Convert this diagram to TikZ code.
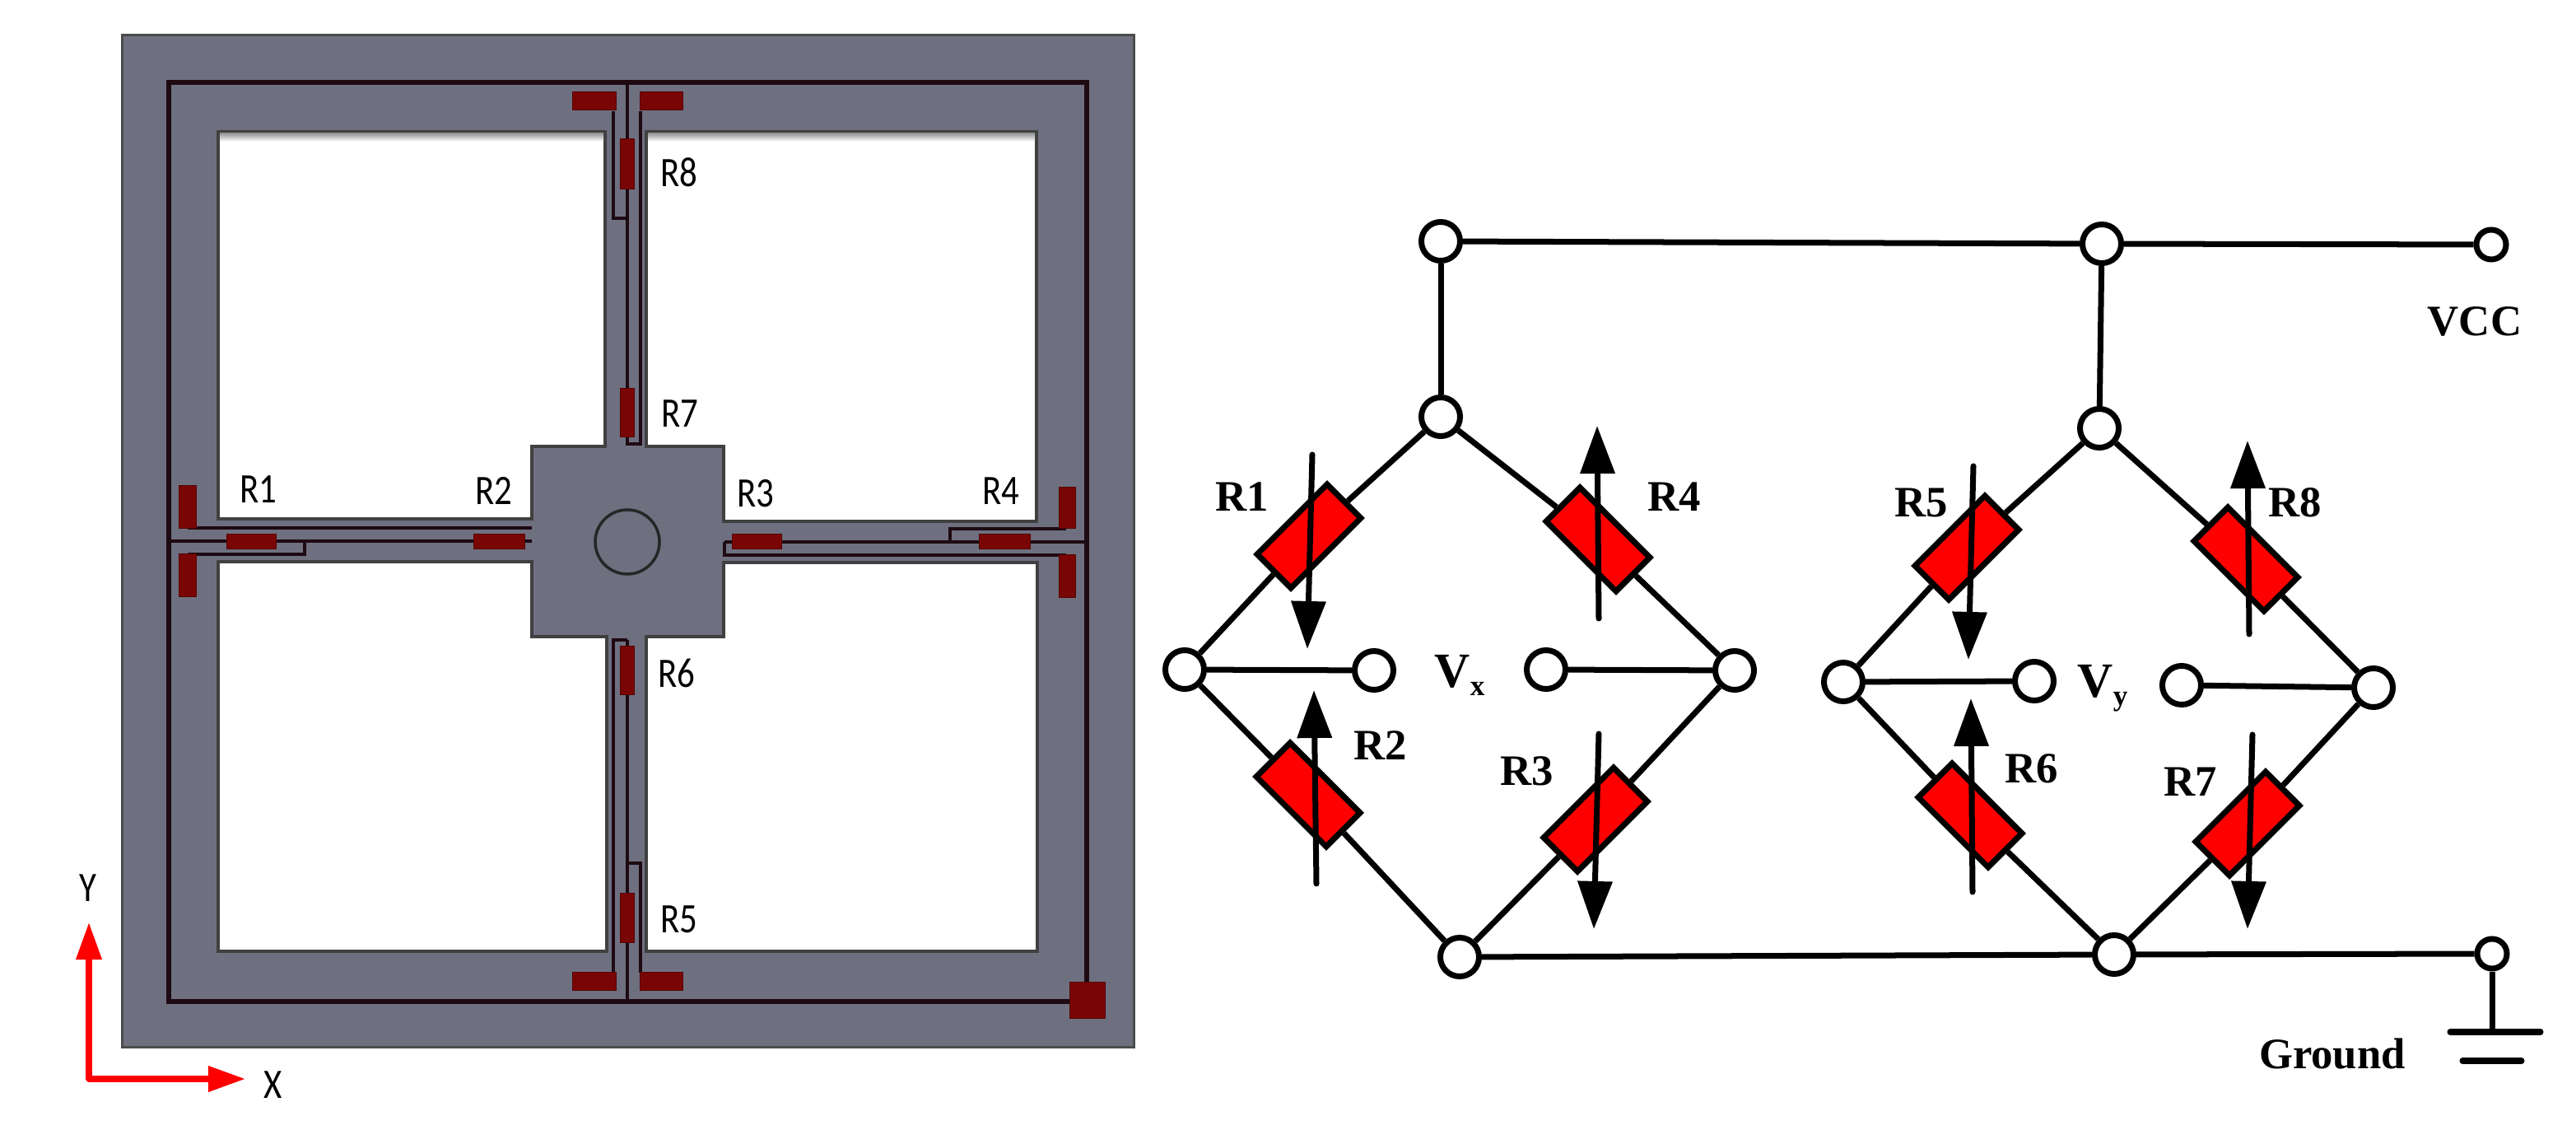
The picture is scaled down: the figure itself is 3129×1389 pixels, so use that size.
\documentclass[tikz,border=0pt]{standalone}
\usepackage{fontspec}
\setmainfont{Liberation Serif}
\newfontfamily\platefont{Carlito}
\usetikzlibrary{arrows.meta}
\definecolor{plategray}{HTML}{6E7080}
\definecolor{padred}{HTML}{7A0505}
\definecolor{tracedark}{HTML}{1E0A12}
\tikzset{
	term/.style={circle, draw, fill=white, line width=0.07cm, inner sep=0pt, minimum size=0.47cm},
	smallterm/.style={term, minimum size=0.36cm},
	gauge/.style={rectangle, draw, fill=red, line width=0.07cm, inner sep=0pt,
		minimum width=1.2cm, minimum height=0.58cm},
	wire/.style={line width=0.07cm},
	strain/.style={line width=0.07cm, line cap=round, -{Triangle[length=0.58cm,width=0.41cm]}},
	lab/.style={font=\fontsize{15}{16}\selectfont\bfseries, inner sep=0pt},
	platelab/.style={font=\platefont\fontsize{14.5}{16}\selectfont, inner sep=0pt, xscale=0.84},
	window/.style={fill=white, draw=black!75, line width=0.035cm},
	trace/.style={draw=tracedark, line width=0.035cm},
	pad/.style={fill=padred, draw=padred!70!black, line width=0.01cm},
	axis/.style={red, line width=0.07cm, line cap=round, -{Triangle[length=0.45cm,width=0.3cm]}}
}
\newcommand{\bigv}[1]{{\fontsize{17}{18}\selectfont V}\raisebox{-0.1cm}{\fontsize{10}{11}\selectfont #1}}
\begin{document}
\begin{tikzpicture}[x=0.01cm, y=-0.01cm]
	\useasboundingbox (0,0) rectangle (3129,1389);

	% sensor plate
	\draw[fill=plategray, draw=black!70, line width=0.03cm] (148,43) rectangle (1377,1272);
	\draw[window] (265,160) -- (735,160) -- (735,542) -- (646,542) -- (646,630) -- (265,630) -- cycle;
	\draw[window] (785,160) -- (1259,160) -- (1259,633) -- (879,633) -- (879,542) -- (785,542) -- cycle;
	\draw[window] (265,682) -- (646,682) -- (646,773) -- (737,773) -- (737,1155) -- (265,1155) -- cycle;
	\draw[window] (879,683) -- (1260,683) -- (1260,1155) -- (785,1155) -- (785,773) -- (879,773) -- cycle;
	\shade[top color=black!40, bottom color=white] (267,162) rectangle (733,172);
	\shade[top color=black!40, bottom color=white] (787,162) rectangle (1257,172);
	\node[circle, draw=black!85, line width=0.035cm, inner sep=0pt, minimum size=0.78cm] (hub) at (762,658) {};

	% traces
	\draw[trace, line width=0.06cm] (205,1216) -- (205,100) -- (1320,100) -- (1320,1216) -- cycle;
	\draw[trace] (762,100) -- (762,539) -- (778,539) -- (778,135);
	\draw[trace] (745,135) -- (745,265) -- (762,265);
	\draw[trace] (745,1181) -- (745,777) -- (762,777);
	\draw[trace] (762,777) -- (762,1216);
	\draw[trace] (762,1048) -- (778,1048) -- (778,1181);
	\draw[trace] (205,657) -- (646,657);
	\draw[trace] (228,641) -- (646,641);
	\draw[trace] (228,673) -- (370,673) -- (370,659);
	\draw[trace] (880,658) -- (1320,658);
	\draw[trace] (1295,642) -- (1154,642) -- (1154,658);
	\draw[trace] (1295,674) -- (880,674) -- (880,658);

	% resistors on the beams
	\fill[pad] (695,112) rectangle (748,134);
	\fill[pad] (777,112) rectangle (829,134);
	\fill[pad] (695,1181) rectangle (748,1203);
	\fill[pad] (777,1181) rectangle (829,1203);
	\fill[pad] (753,169) rectangle (770,230);
	\fill[pad] (753,472) rectangle (770,531);
	\fill[pad] (753,785) rectangle (770,844);
	\fill[pad] (753,1085) rectangle (770,1145);
	\fill[pad] (275,649) rectangle (335,667);
	\fill[pad] (575,649) rectangle (637,667);
	\fill[pad] (889,649) rectangle (949,667);
	\fill[pad] (1189,649) rectangle (1251,667);
	\fill[pad] (217,590) rectangle (238,642);
	\fill[pad] (217,673) rectangle (238,725);
	\fill[pad] (1286,592) rectangle (1306,642);
	\fill[pad] (1286,674) rectangle (1306,726);
	\fill[pad] (1299,1193) rectangle (1342,1237);

	\node[platelab] (p1) at (314,594) {R1};
	\node[platelab] (p2) at (600,596) {R2};
	\node[platelab] (p3) at (918,599) {R3};
	\node[platelab] (p4) at (1216,596) {R4};
	\node[platelab] (p5) at (825,1116) {R5};
	\node[platelab] (p6) at (822,817) {R6};
	\node[platelab] (p7) at (826,502) {R7};
	\node[platelab] (p8) at (825,209) {R8};

	% axes
	\coordinate (org) at (108,1310);
	\coordinate (xtip) at (298,1310);
	\coordinate (ytip) at (108,1120);
	\draw[axis] (org) -- (xtip);
	\draw[axis] (org) -- (ytip);
	\node[platelab] (xlab) at (332,1317) {X};
	\node[platelab] (ylab) at (107,1078) {Y};

	% left bridge
	\node[term] (a) at (1750,293) {};
	\node[term] (b) at (1750,506) {};
	\node[term] (c) at (1439,813) {};
	\node[term] (d) at (1669,814) {};
	\node[term] (e) at (1878,813) {};
	\node[term] (f) at (2107,814) {};
	\node[term] (g) at (1773,1162) {};

	\node[gauge, rotate=45] (r1) at (1590,651) {};
	\node[gauge, rotate=-45] (r2) at (1589,965) {};
	\node[gauge, rotate=45] (r3) at (1938,995) {};
	\node[gauge, rotate=-45] (r4) at (1941,655) {};

	\draw[wire] (a) -- (b);
	\draw[wire] (b) -- (r1) -- (c);
	\draw[wire] (c) -- (r2) -- (g);
	\draw[wire] (g) -- (r3) -- (f);
	\draw[wire] (f) -- (r4) -- (b);
	\draw[wire] (c) -- (d);
	\draw[wire] (e) -- (f);

	\coordinate (s1) at (1594,552); \coordinate (t1) at (1588,788);
	\coordinate (s2) at (1599,1073); \coordinate (t2) at (1596,838);
	\coordinate (s3) at (1942,891); \coordinate (t3) at (1936,1128);
	\coordinate (s4) at (1942,751); \coordinate (t4) at (1940,517);
	\draw[strain] (s1) -- (t1);
	\draw[strain] (s2) -- (t2);
	\draw[strain] (s3) -- (t3);
	\draw[strain] (s4) -- (t4);

	\node[lab] (l1) at (1509,603) {R1};
	\node[lab] (l2) at (1677,905) {R2};
	\node[lab] (l3) at (1855,936) {R3};
	\node[lab] (l4) at (2034,603) {R4};
	\node[lab] (vx) at (1773,820) {\bigv{x}};

	% right bridge
	\node[term] (h) at (2553,296) {};
	\node[term] (i) at (2550,520) {};
	\node[term] (j) at (2239,828) {};
	\node[term] (k) at (2471,827) {};
	\node[term] (m) at (2650,832) {};
	\node[term] (n) at (2883,835) {};
	\node[term] (o) at (2568,1159) {};

	\node[gauge, rotate=45] (r5) at (2389,665) {};
	\node[gauge, rotate=-45] (r6) at (2393,990) {};
	\node[gauge, rotate=45] (r7) at (2730,1000) {};
	\node[gauge, rotate=-45] (r8) at (2728,679) {};

	\draw[wire] (h) -- (i);
	\draw[wire] (i) -- (r5) -- (j);
	\draw[wire] (j) -- (r6) -- (o);
	\draw[wire] (o) -- (r7) -- (n);
	\draw[wire] (n) -- (r8) -- (i);
	\draw[wire] (j) -- (k);
	\draw[wire] (m) -- (n);

	\coordinate (s5) at (2397,566); \coordinate (t5) at (2391,801);
	\coordinate (s6) at (2396,1083); \coordinate (t6) at (2394,848);
	\coordinate (s7) at (2736,892); \coordinate (t7) at (2730,1128);
	\coordinate (s8) at (2732,770); \coordinate (t8) at (2730,535);
	\draw[strain] (s5) -- (t5);
	\draw[strain] (s6) -- (t6);
	\draw[strain] (s7) -- (t7);
	\draw[strain] (s8) -- (t8);

	\node[lab] (l5) at (2334,610) {R5};
	\node[lab] (l6) at (2468,933) {R6};
	\node[lab] (l7) at (2661,949) {R7};
	\node[lab] (l8) at (2788,610) {R8};
	\node[lab] (vy) at (2554,836) {\bigv{y}};

	% supply and ground
	\node[smallterm] (vcc) at (3026,297) {};
	\node[smallterm] (gnd) at (3027,1158) {};
	\draw[wire] (a) -- (h);
	\draw[wire] (h) -- (vcc);
	\draw[wire] (g) -- (o);
	\draw[wire] (o) -- (gnd);

	\coordinate (g0) at (3027,1253);
	\coordinate (g1) at (2976,1253); \coordinate (g2) at (3086,1253);
	\coordinate (g3) at (2991,1288); \coordinate (g4) at (3063,1288);
	\draw[wire] (gnd) -- (g0);
	\draw[wire, line cap=round] (g1) -- (g2);
	\draw[wire, line cap=round] (g3) -- (g4);

	\node[lab] (vcclab) at (3006,390) {VCC};
	\node[lab] (gndlab) at (2833,1280) {Ground};
\end{tikzpicture}
\end{document}
